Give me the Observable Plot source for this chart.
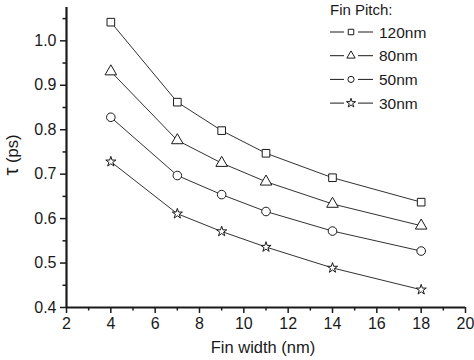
<!DOCTYPE html>
<html>
<head>
<meta charset="utf-8">
<script src="https://cdn.jsdelivr.net/npm/d3@7"></script>
<script src="https://cdn.jsdelivr.net/npm/@observablehq/plot@0.6"></script>
<style>
  body { margin: 0; background: #fff; }
  #chart { width: 474px; height: 360px; }
</style>
</head>
<body>
<div id="chart"></div>
<script>
const finWidth = [4, 7, 9, 11, 14, 18];
const series = ["120nm", "80nm", "50nm", "30nm"];
const symbols = ["square", "triangle", "circle", "star"];
const tau120 = [1.042, 0.862, 0.798, 0.747, 0.692, 0.637];
const tau80  = [0.931, 0.776, 0.725, 0.683, 0.633, 0.584];
const tau50  = [0.828, 0.697, 0.654, 0.616, 0.572, 0.527];
const tau30  = [0.728, 0.611, 0.571, 0.536, 0.489, 0.440];
const xMajor = [2, 4, 6, 8, 10, 12, 14, 16, 18, 20];
const xMinor = [3, 5, 7, 9, 11, 13, 15, 17, 19];
const yMajor = [0.4, 0.5, 0.6, 0.7, 0.8, 0.9, 1.0];
const yMinor = [0.45, 0.55, 0.65, 0.75, 0.85, 0.95, 1.05];

const allTau = [tau120, tau80, tau50, tau30];
const data = [];
series.forEach((s, i) => finWidth.forEach((w, j) => data.push({series: s, symbol: symbols[i], w, tau: allTau[i][j]})));

const font = "'Liberation Sans', Arial, sans-serif";
const ink = "#1a1a1a";

const plot = Plot.plot({
  width: 474,
  height: 360,
  marginLeft: 66,
  marginRight: 9,
  marginTop: 7,
  marginBottom: 53,
  style: {fontFamily: font, color: ink, background: "#fff"},
  x: {domain: [2, 20]},
  y: {domain: [0.4, 1.075]},
  symbol: {domain: symbols, range: symbols},
  marks: [
    Plot.axisX({ticks: xMajor, tickSize: 6, tickPadding: 4, fontSize: 16, tickFormat: d => d, label: null, strokeWidth: 1.5}),
    Plot.axisX({ticks: xMinor, tickSize: 3.5, text: null, label: null, strokeWidth: 1.5}),
    Plot.axisY({ticks: yMajor, tickSize: 6, tickPadding: 4, fontSize: 16, tickFormat: d3.format(".1f"), label: null, strokeWidth: 1.5}),
    Plot.axisY({ticks: yMinor, tickSize: 3.5, text: null, label: null, strokeWidth: 1.5}),
    Plot.ruleY([0.4], {stroke: ink, strokeWidth: 2.2}),
    Plot.ruleX([2], {stroke: ink, strokeWidth: 2.2}),
    Plot.line(data, {x: "w", y: "tau", z: "series", stroke: ink, strokeWidth: 0.9}),
    Plot.dot(data.filter(d => d.symbol !== "star"), {x: "w", y: "tau", symbol: "symbol", r: 4.3, stroke: ink, fill: "#fff", strokeWidth: 1}),
    Plot.dot(data.filter(d => d.symbol === "star"), {x: "w", y: "tau", symbol: "symbol", r: 3.2, stroke: ink, fill: "#fff", strokeWidth: 1})
  ]
});

document.getElementById("chart").appendChild(plot);

const svg = d3.select(plot);
// axis titles
svg.append("text")
  .attr("x", 263).attr("y", 353)
  .attr("text-anchor", "middle")
  .style("font-family", font).style("font-size", "16.5px").attr("fill", ink)
  .text("Fin width (nm)");
const yl = svg.append("text")
  .attr("transform", "translate(18,155) rotate(-90)")
  .attr("text-anchor", "middle")
  .style("font-family", font).style("font-size", "16.5px").attr("fill", ink);
yl.append("tspan").style("font-size", "20px").text("τ");
yl.append("tspan").text(" (ps)");

// legend
const lg = svg.append("g").attr("transform", "translate(330,0)").attr("text-anchor", "start");
lg.append("text").attr("x", 0).attr("y", 15)
  .style("font-family", font).style("font-size", "15px").attr("fill", ink)
  .text("Fin Pitch:");
const symMap = {square: d3.symbolSquare, triangle: d3.symbolTriangle, circle: d3.symbolCircle, star: d3.symbolStar};
series.forEach((s, i) => {
  const cy = 32 + i * 23.7;
  const g = lg.append("g").attr("transform", `translate(0,${cy})`);
  g.append("line").attr("x1", 0).attr("x2", 14).attr("stroke", ink).attr("stroke-width", 1);
  g.append("line").attr("x1", 28).attr("x2", 43).attr("stroke", ink).attr("stroke-width", 1);
  g.append("path").attr("transform", "translate(21,0)")
    .attr("d", d3.symbol(symMap[symbols[i]], i === 3 ? 26 : 30)())
    .attr("fill", "#fff").attr("stroke", ink).attr("stroke-width", 1);
  g.append("text").attr("x", 49).attr("y", 5.5)
    .style("font-family", font).style("font-size", "15.5px").attr("fill", ink)
    .text(s);
});
</script>
</body>
</html>
